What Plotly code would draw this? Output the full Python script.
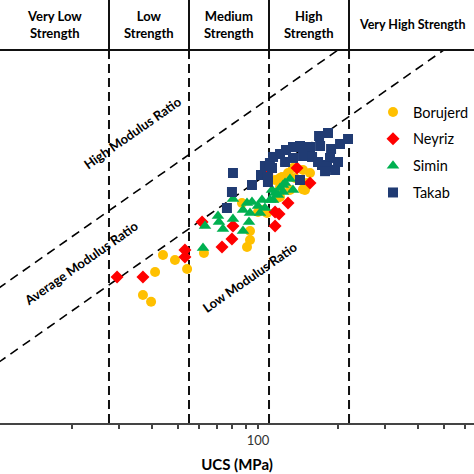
import math
import plotly.graph_objects as go

# ---- data (UCS in MPa, modulus E in GPa) ----
borujerd_ucs = [36.9, 39.6, 41.0, 43.9, 48.7, 54.1, 62.6, 90.9, 93.3, 93.3, 87.0, 104.4, 100.0, 108.1,
                117.9, 121.0, 123.1, 129.7, 135.4, 147.7, 156.9, 152.9, 150.2, 121.0, 115.9, 131.9,
                121.0, 137.8, 147.7]
borujerd_e = [4.86, 4.47, 6.45, 7.96, 7.48, 6.70, 8.16, 8.78, 9.58, 10.70, 15.12, 13.87, 13.53, 13.36,
              16.08, 20.60, 20.84, 21.90, 23.30, 22.73, 21.90, 19.36, 17.76, 18.43, 20.09, 17.76,
              16.28, 20.60, 17.90]

neyriz_ucs = [29.5, 36.9, 53.1, 53.1, 61.6, 73.2, 79.8, 80.5, 115.9, 120.0, 115.9, 129.7, 156.9, 140.2, 108.1]
neyriz_e = [6.07, 6.07, 8.47, 7.77, 11.96, 8.78, 9.70, 11.38, 13.53, 13.20, 11.38, 15.12, 19.36, 23.30, 21.63]

simin_ucs = [62.1, 63.2, 70.7, 71.3, 73.8, 80.5, 80.5, 87.8, 92.5, 90.9, 94.9, 87.8, 93.3, 100.0,
             103.5, 106.2, 101.7, 110.9, 112.9, 115.9, 121.0, 124.2, 131.9, 126.4, 135.4, 118.9,
             124.2, 113.9]
simin_e = [8.68, 11.38, 12.88, 11.96, 10.97, 12.41, 15.89, 10.70, 11.96, 15.12, 15.31, 13.87, 13.36, 14.57,
           15.69, 14.22, 13.36, 15.69, 17.76, 17.11, 18.20, 18.89, 20.34, 19.36, 17.76, 16.69,
           17.32, 15.69]

takab_ucs = [76.4, 79.8, 80.5, 94.9, 102.6, 109.0, 106.2, 110.9, 112.9, 113.9, 121.0, 127.4, 135.4,
             143.9, 156.9, 171.2, 188.3, 203.5, 218.1, 183.4, 169.7, 126.4, 135.4, 147.7, 159.7,
             168.2, 174.1, 186.6, 200.0, 181.8, 194.9, 178.7, 143.9, 109.0]
takab_e = [14.22, 17.32, 21.90, 18.89, 21.37, 19.60, 23.88, 24.78, 23.30, 26.70, 27.70, 29.10, 30.19,
           30.57, 30.19, 30.57, 29.46, 31.33, 33.33, 35.89, 34.59, 25.09, 26.37, 27.02, 26.70,
           25.09, 24.17, 26.37, 25.09, 23.60, 22.73, 22.40, 20.09, 20.84]

strength_bounds = [27.5, 55, 110, 220]          # MPa, strength class limits
strength_labels = ["Very Low<br>Strength", "Low<br>Strength", "Medium<br>Strength", "High<br>Strength"]
last_label = "Very High Strength"
modulus_ratios = [200, 500]                     # E/UCS limits
ratio_labels = ["Low Modulus Ratio", "Average Modulus Ratio", "High Modulus Ratio"]
xticks = [20, 30, 40, 50, 60, 70, 80, 90, 100, 200, 300, 400, 500, 600]

XR = [1.0293, 2.8126]
YR = [0.0, 2.0]
FONT = "Lato"


def xp(v):
    return (math.log10(v) - XR[0]) / (XR[1] - XR[0])


fig = go.Figure()

# modulus ratio lines
line_x = [5, 2000]
for r in modulus_ratios:
    fig.add_trace(go.Scatter(x=line_x, y=[r * u / 1000 for u in line_x], mode="lines",
                             line=dict(color="black", width=1.6, dash="9px,6px"),
                             showlegend=False, hoverinfo="skip"))

series = [
    ("Borujerd", borujerd_ucs, borujerd_e, "circle", "#FFC000", 10),
    ("Neyriz", neyriz_ucs, neyriz_e, "diamond", "#FF0000", 10),
    ("Simin", simin_ucs, simin_e, "triangle-up", "#00B050", 11),
    ("Takab", takab_ucs, takab_e, "square", "#203B73", 10),
]
for name, xs, ys, sym, col, sz in series:
    fig.add_trace(go.Scatter(x=xs, y=ys, mode="markers", name=name, legendgroup=name,
                             marker=dict(symbol=sym, color=col, size=sz, line=dict(width=0))))

shapes = []
for b in strength_bounds:
    shapes.append(dict(type="line", xref="paper", yref="paper", x0=xp(b), x1=xp(b), y0=0, y1=1,
                       line=dict(color="#111111", width=2, dash="9px,5px"), layer="below"))
    shapes.append(dict(type="line", xref="paper", yref="paper", x0=xp(b), x1=xp(b), y0=1, y1=1.2,
                       line=dict(color="#111111", width=2)))
shapes.append(dict(type="line", xref="paper", yref="paper", x0=0, x1=1, y0=1.0, y1=1.0,
                   line=dict(color="#111111", width=2)))

annotations = []
edges = [10 ** XR[0]] + strength_bounds
for i, lab in enumerate(strength_labels):
    cx = (xp(edges[i]) + xp(edges[i + 1])) / 2
    annotations.append(dict(text="<b>" + lab + "</b>", xref="paper", yref="paper", x=cx, y=1.068,
                            showarrow=False, font=dict(family=FONT, size=13, color="black"),
                            xanchor="center", yanchor="middle"))
annotations.append(dict(text="<b>" + last_label + "</b>", xref="paper", yref="paper",
                        x=(xp(strength_bounds[-1]) + 1) / 2 + 0.002, y=1.068,
                        showarrow=False, font=dict(family=FONT, size=12.5, color="black"),
                        xanchor="center", yanchor="middle"))

ratio_pos = [(250 / 474, (423 - 277) / 373), (81 / 474, (423 - 263) / 373), (132 / 474, (423 - 133) / 373)]
for lab, (ax_, ay_) in zip(ratio_labels, ratio_pos):
    annotations.append(dict(text="<b>" + lab + "</b>", xref="paper", yref="paper", x=ax_, y=ay_,
                            xanchor="center", yanchor="middle",
                            showarrow=False, textangle=-35,
                            font=dict(family=FONT, size=13, color="black")))

fig.update_layout(
    width=474, height=474,
    margin=dict(l=0, r=0, t=50, b=51, autoexpand=False),
    plot_bgcolor="white", paper_bgcolor="white",
    shapes=shapes, annotations=annotations,
    showlegend=True,
    legend=dict(x=373 / 474, y=(423 - 96) / 373, xanchor="left", yanchor="top",
                font=dict(family=FONT, size=14.5, color="black"), tracegroupgap=5,
                bgcolor="rgba(0,0,0,0)", itemwidth=30),
    xaxis=dict(type="log", range=XR, showgrid=False, zeroline=False,
               showline=True, linecolor="#444444", linewidth=2,
               ticks="outside", ticklen=4, tickwidth=1.5, tickcolor="#444444",
               tickvals=xticks, ticktext=["100" if t == 100 else "" for t in xticks],
               tickfont=dict(family=FONT, size=13, color="#333333"),
               title=dict(text="<b>UCS (MPa)</b>", font=dict(family=FONT, size=15, color="black"),
                          standoff=13)),
    yaxis=dict(type="log", range=YR, visible=False),
)

fig.write_html("out.html")
